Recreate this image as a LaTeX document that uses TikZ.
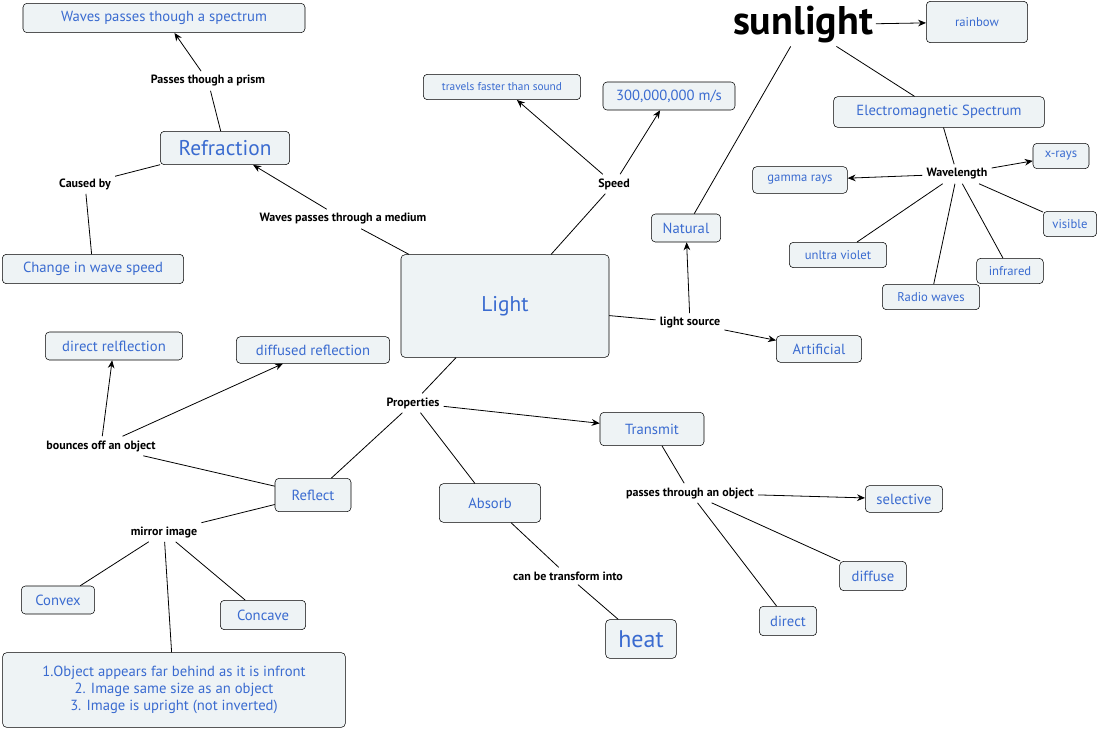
\documentclass[tikz,border=0pt]{standalone}
\usepackage{fontspec}
\setmainfont{PT Sans}
\usetikzlibrary{arrows.meta}
\definecolor{bx}{HTML}{EEF3F5}
\definecolor{tx}{HTML}{3A6BD0}
\begin{document}
\begin{tikzpicture}[x=0.75pt,y=-0.75pt,
 box/.style={draw=black,fill=bx,rounded corners=3pt,text=tx,font=\fontsize{11}{13}\selectfont,inner xsep=6pt,inner ysep=4pt},
 lab/.style={font=\bfseries\fontsize{9}{11}\selectfont,inner sep=3pt},
 ln/.style={draw=black,line width=0.6pt},
 ar/.style={ln,-{Stealth[length=6pt,width=5pt]}}]
\useasboundingbox (0,0) rectangle (1100,732);
% boxes
\node[box,minimum width=282pt*0.75,minimum height=22] (ws) at (164,18) {Waves passes though a spectrum};
\node[box,font=\fontsize{16}{18}\selectfont,minimum width=97,minimum height=25] (refr) at (225,148) {Refraction};
\node[box,minimum width=136,minimum height=22] (chg) at (93,269) {Change in wave speed};
\node[box,font=\fontsize{16}{18}\selectfont,minimum width=156,minimum height=77] (light) at (505,306) {Light};
\node[box,minimum width=103,minimum height=21] (dr) at (114,346) {direct relflection};
\node[box,minimum width=115,minimum height=20] (df) at (313,350) {diffused reflection};
\node[box,minimum width=57,minimum height=25] (refl) at (313,495) {Reflect};
\node[box,minimum width=76,minimum height=29] (abs) at (490,503) {Absorb};
\node[box,minimum width=78,minimum height=25] (tr) at (652,429) {Transmit};
\node[box,minimum width=58,minimum height=20] (sel) at (904,499) {selective};
\node[box,minimum width=50,minimum height=22] (dfu) at (873,576) {diffuse};
\node[box,minimum width=43,minimum height=22] (dir) at (788,621) {direct};
\node[box,font=\fontsize{18}{20}\selectfont,minimum width=53,minimum height=29] (heat) at (641,639) {heat};
\node[box,minimum width=55,minimum height=21] (cvx) at (58,600) {Convex};
\node[box,minimum width=64,minimum height=22] (ccv) at (263,615) {Concave};
\node[box,align=center,minimum width=257,minimum height=56] (tb) at (174,690) {1.Object appears far behind as it is infront\\2. Image same size as an object\\3. Image is upright (not inverted)};
\node[box,font=\fontsize{8.5}{10}\selectfont,minimum width=118,minimum height=19] (trv) at (502,87) {travels faster than sound};
\node[box,minimum width=99,minimum height=21] (v300) at (669,96) {300,000,000 m/s};
\node[box,minimum width=52,minimum height=21] (nat) at (686,228) {Natural};
\node[box,minimum width=64,minimum height=20] (art) at (819,349) {Artificial};
\node[box,font=\fontsize{9.5}{11}\selectfont,minimum width=76,minimum height=31] (rb) at (977,22) {rainbow};
\node[box,minimum width=158,minimum height=23] (em) at (939,112) {Electromagnetic Spectrum};
\node[box,font=\fontsize{9.5}{11}\selectfont,minimum width=42,minimum height=19] (xr) at (1061,156) {x-rays};
\node[box,font=\fontsize{9.5}{11}\selectfont,minimum width=71,minimum height=20] (gr) at (800,180) {gamma rays};
\node[box,font=\fontsize{9.5}{11}\selectfont,minimum width=40,minimum height=19] (vis) at (1070,224) {visible};
\node[box,font=\fontsize{9.5}{11}\selectfont,minimum width=73,minimum height=19] (uv) at (838,255) {unltra violet};
\node[box,font=\fontsize{9.5}{11}\selectfont,minimum width=50,minimum height=19] (ir) at (1010,271) {infrared};
\node[box,font=\fontsize{9.5}{11}\selectfont,minimum width=73,minimum height=19] (rw) at (931,297) {Radio waves};
\node[font=\bfseries\fontsize{30}{32}\selectfont,inner sep=2pt] (sun) at (803,25) {sunlight};
% labels
\node[lab] (prism) at (208,81) {Passes though a prism};
\node[lab] (cb) at (85,184) {Caused by};
\node[lab] (med) at (343,219) {Waves passes through a medium};
\node[lab] (spd) at (614,184) {Speed};
\node[lab] (ls) at (690,323) {light source};
\node[lab] (wl) at (957,174) {Wavelength};
\node[lab] (prop) at (413,403) {Properties};
\node[lab] (bo) at (101,446) {bounces off an object};
\node[lab] (mi) at (164,532) {mirror image};
\node[lab] (pt) at (690,493) {passes through an object};
\node[lab] (ct) at (568,576) {can be transform into};
% connectors
\draw[ln] (refr) -- (prism); \draw[ar] (prism) -- (ws);
\draw[ln] (refr) -- (cb); \draw[ln] (cb) -- (chg);
\draw[ln] (light) -- (med); \draw[ar] (med) -- (refr);
\draw[ln] (light) -- (spd); \draw[ar] (spd) -- (trv); \draw[ar] (spd) -- (v300);
\draw[ln] (light) -- (ls); \draw[ar] (ls) -- (nat); \draw[ar] (ls) -- (art);
\draw[ln] (nat) -- (sun); \draw[ar] (sun) -- (rb); \draw[ln] (sun) -- (em);
\draw[ln] (em) -- (wl); \draw[ar] (wl) -- (gr); \draw[ar] (wl) -- (xr);
\draw[ln] (wl) -- (vis); \draw[ln] (wl) -- (uv); \draw[ln] (wl) -- (ir); \draw[ln] (wl) -- (rw);
\draw[ln] (light) -- (prop); \draw[ar] (prop) -- (tr); \draw[ln] (prop) -- (refl); \draw[ln] (prop) -- (abs);
\draw[ln] (refl) -- (bo); \draw[ar] (bo) -- (dr); \draw[ar] (bo) -- (df);
\draw[ln] (refl) -- (mi); \draw[ln] (mi) -- (cvx); \draw[ln] (mi) -- (ccv); \draw[ln] (mi) -- (tb);
\draw[ln] (abs) -- (ct); \draw[ln] (ct) -- (heat);
\draw[ln] (tr) -- (pt); \draw[ar] (pt) -- (sel); \draw[ln] (pt) -- (dfu); \draw[ln] (pt) -- (dir);
\end{tikzpicture}
\end{document}
